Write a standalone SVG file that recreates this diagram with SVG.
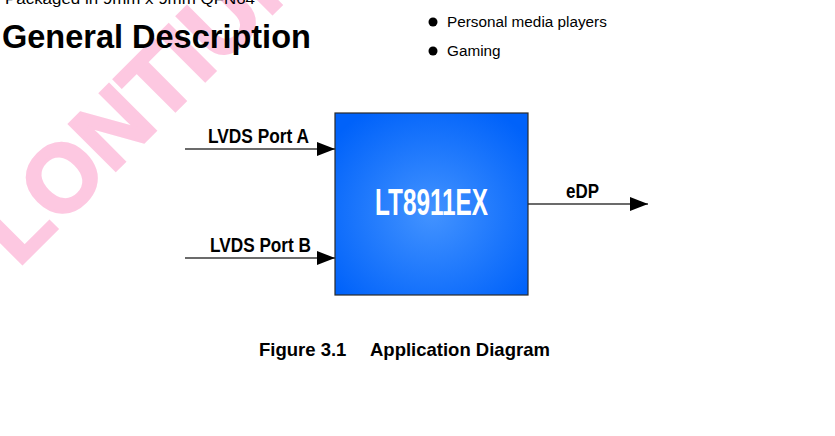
<svg xmlns="http://www.w3.org/2000/svg" width="835" height="436" viewBox="0 0 835 436">
  <style>
    .t { font-family: "Liberation Sans", Arial, sans-serif; fill: #000; }
    .b { font-weight: bold; }
    .lbl { font-family: "Liberation Sans", Arial, sans-serif; font-weight: bold; font-size: 21px; fill: #000; }
    .wire { stroke: #3a3a3a; stroke-width: 1.5; fill: none; }
  </style>
  <defs>
    <radialGradient id="chipFill" cx="0.5" cy="0.55" r="0.65">
      <stop offset="0" stop-color="#4393ff"/>
      <stop offset="1" stop-color="#0062fa"/>
    </radialGradient>
    <marker id="arrow" markerWidth="18" markerHeight="14" refX="18" refY="7" orient="auto" markerUnits="userSpaceOnUse">
      <path d="M0,0 L18,7 L0,14 Z" fill="#000"/>
    </marker>
  </defs>
  <rect width="835" height="436" fill="#fff"/>

  <text x="18" y="268" transform="rotate(-45 18 268)" font-family="Liberation Sans, Arial, sans-serif" font-weight="bold" font-size="95" fill="#fdc8e1" stroke="#fdc8e1" stroke-width="3" stroke-linejoin="miter">LONTIUM</text>

  <text class="t" x="5" y="4" font-size="15.5" textLength="250" lengthAdjust="spacingAndGlyphs">Packaged in   9mm x 9mm QFN64</text>
  <text class="t b" x="2" y="48" font-size="32.5">General Description</text>

  <circle cx="433" cy="22" r="4.5" fill="#000"/>
  <text class="t" x="447" y="27" font-size="15.3">Personal media players</text>
  <circle cx="433" cy="51" r="4.5" fill="#000"/>
  <text class="t" x="447" y="56" font-size="15.3">Gaming</text>

  <g id="connectors">
    <line class="wire" x1="185" y1="149" x2="335" y2="149" marker-end="url(#arrow)"/>
    <line class="wire" x1="185" y1="258" x2="335" y2="258" marker-end="url(#arrow)"/>
    <line class="wire" x1="528" y1="204" x2="648" y2="204" marker-end="url(#arrow)"/>
    <text class="lbl" x="208" y="143" textLength="101" lengthAdjust="spacingAndGlyphs">LVDS Port A</text>
    <text class="lbl" x="210" y="252" textLength="101" lengthAdjust="spacingAndGlyphs">LVDS Port B</text>
    <text class="lbl" x="566" y="198" textLength="33" lengthAdjust="spacingAndGlyphs">eDP</text>
  </g>

  <g id="chip">
    <rect x="335" y="113" width="193" height="182" fill="url(#chipFill)" stroke="#2a2a2a" stroke-width="1.2"/>
    <text x="375" y="215" font-family="Liberation Sans, Arial, sans-serif" font-weight="bold" font-size="36" fill="#fff" textLength="113" lengthAdjust="spacingAndGlyphs">LT8911EX</text>
  </g>

  <text class="t b" x="259" y="356" font-size="18.5">Figure 3.1</text>
  <text class="t b" x="370" y="356" font-size="18.5">Application Diagram</text>
</svg>
